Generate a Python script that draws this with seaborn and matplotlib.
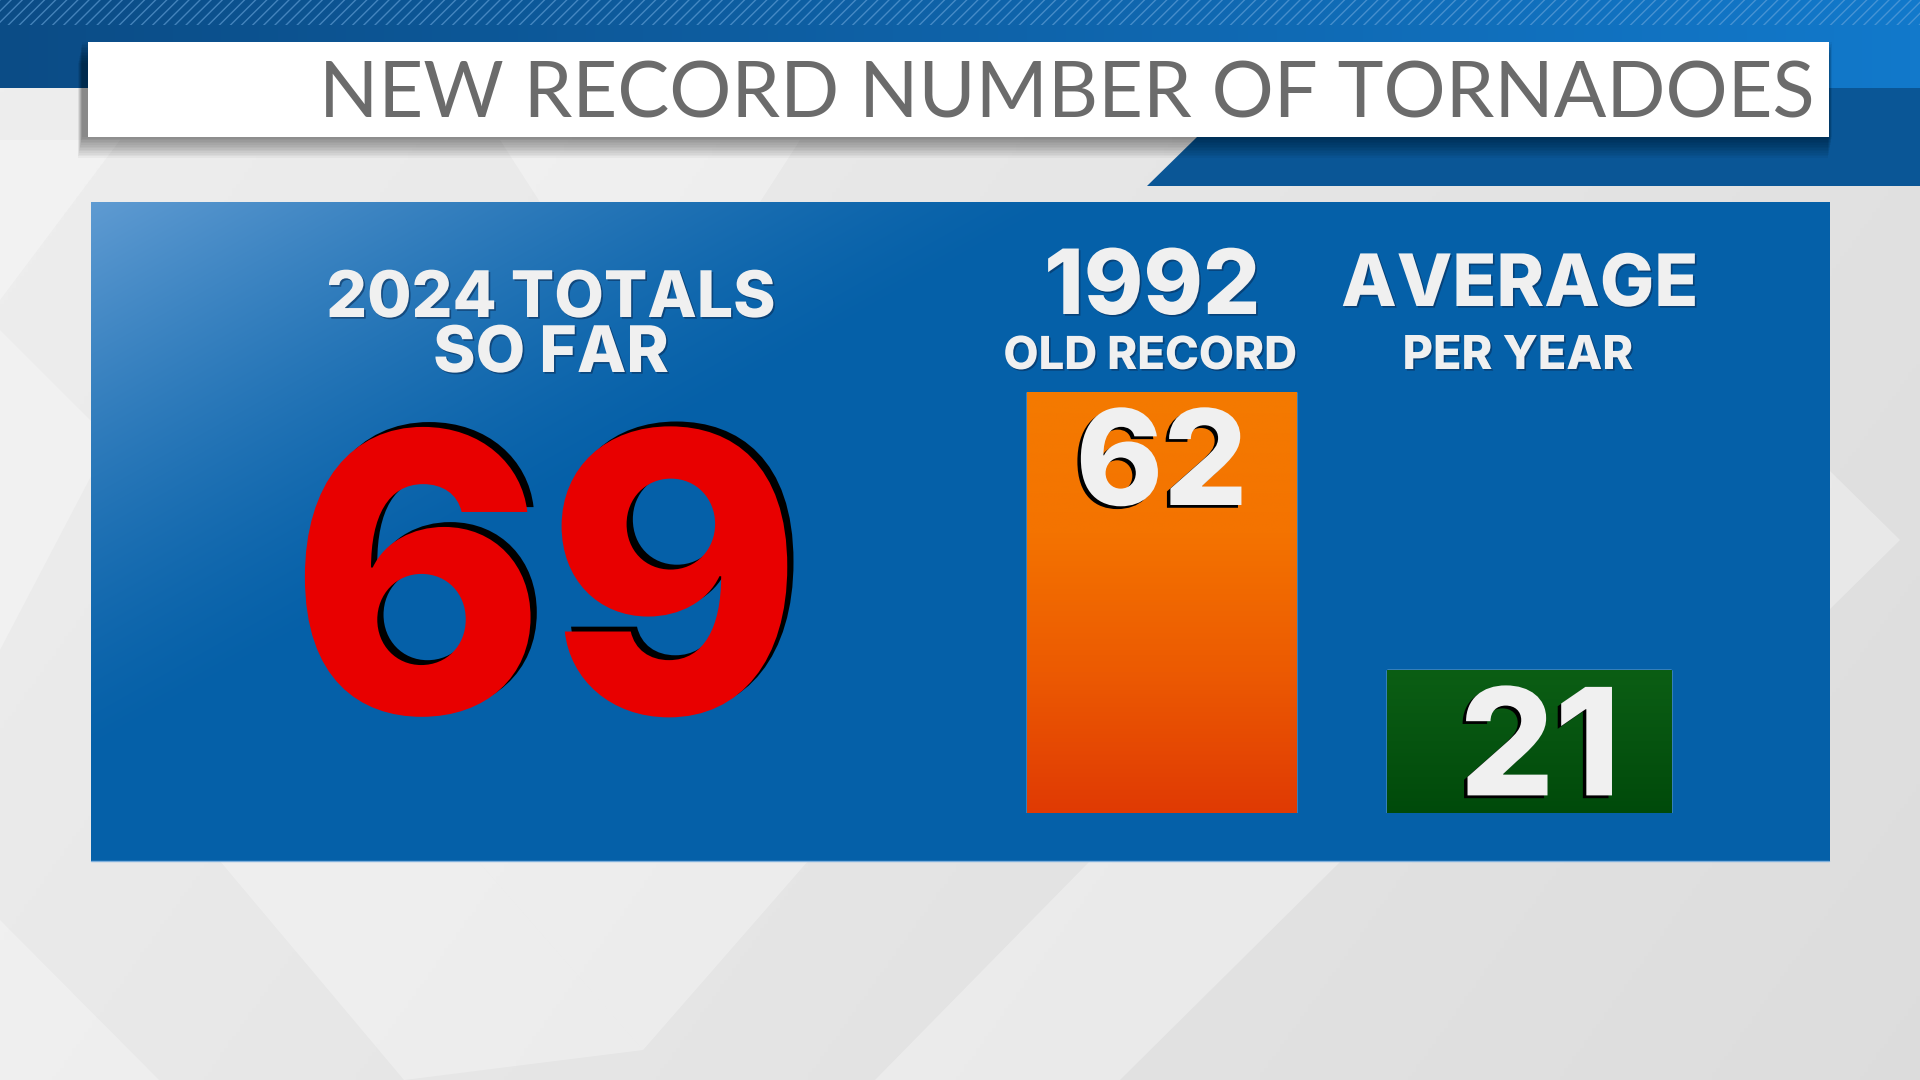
import numpy as np
import pandas as pd
import matplotlib.pyplot as plt
import seaborn as sns
from matplotlib import patheffects as pe
from matplotlib import transforms
from matplotlib.patches import Rectangle, Polygon
from matplotlib.colors import LinearSegmentedColormap, to_rgb
from matplotlib.textpath import TextPath
from matplotlib.font_manager import FontProperties

# ---- data -------------------------------------------------------------
title = "NEW RECORD NUMBER OF TORNADOES"
current_lines = ["2024 TOTALS", "SO FAR"]
current_total = 69
categories = ["1992", "AVERAGE"]
sublabels = ["OLD RECORD", "PER YEAR"]
counts = [62, 21]

# ---- setup ------------------------------------------------------------
DPI = 100
W, H = 1920, 1080
sns.set_style("white")
plt.rcParams["font.family"] = ["Inter", "DejaVu Sans"]
plt.rcParams["hatch.linewidth"] = 1.0

BOLD, BOLD_W = "Inter", "heavy"
THIN, THIN_W = "Lato", "normal"


def fit_size(text, ink_px, family=BOLD, weight=BOLD_W):
    # font size (pt) whose glyph ink height matches ink_px
    fp = FontProperties(family=family, weight=weight)
    ext = TextPath((0, 0), text, size=100, prop=fp).get_extents()
    return ink_px * 72 / DPI * 100 / ext.height


fig = plt.figure(figsize=(W / DPI, H / DPI), dpi=DPI)
bg = fig.add_axes([0, 0, 1, 1])
bg.set_xlim(0, W)
bg.set_ylim(H, 0)
bg.axis("off")

# light gray backdrop with faint facets
yy, xx = np.mgrid[0:H:4, 0:W:4]
shade = 0.935 - 0.05 * (xx / W) - 0.02 * (yy / H)
bg.imshow(np.dstack([shade] * 3), extent=[0, W, H, 0], zorder=0, aspect="auto")
facets = [
    [(0, 920), (159, 1080), (0, 1080)],
    [(220, 861), (478, 861), (643, 1050), (404, 1080)],
    [(478, 861), (808, 861), (643, 1050)],
    [(875, 1080), (1090, 861), (1341, 861), (1120, 1080)],
    [(0, 330), (110, 440), (0, 650)],
    [(1829, 470), (1900, 540), (1829, 610)],
    [(0, 140), (120, 140), (0, 300)],
    [(500, 140), (800, 140), (760, 202), (540, 202)],
]
for pts in facets:
    bg.add_patch(Polygon(pts, closed=True, facecolor="white", alpha=0.3,
                         edgecolor="none", zorder=1))

# top blue band with hatching
band = np.zeros((22, 200, 3))
c0, c1 = np.array(to_rgb("#0b4c86")), np.array(to_rgb("#1279cb"))
t = np.linspace(0, 1, 200)[None, :, None]
band[:] = c0 + (c1 - c0) * t
bg.imshow(band, extent=[0, W, 88, 0], zorder=2, aspect="auto")
bg.add_patch(Rectangle((0, 0), W, 25, facecolor="none", edgecolor="#6aa6dc",
                       hatch="///", linewidth=0, alpha=0.6, zorder=3))
bg.add_patch(Polygon([(1247, 88), (W, 88), (W, 186), (1147, 186)], closed=True,
                     facecolor="#0a5696", edgecolor="none", zorder=2))

# title box with a soft drop shadow
for i in range(14):
    bg.add_patch(Rectangle((82 - i * 0.3, 42 + i * 1.6), 1750, 95,
                           facecolor="black", alpha=0.035, edgecolor="none",
                           zorder=4))
bg.add_patch(Rectangle((88, 42), 1741, 95, facecolor="white", edgecolor="none", zorder=5))
bg.text(1815, 118, title, ha="right", va="baseline", color="#6b6b6b",
        fontsize=fit_size(title, 57, THIN, THIN_W), family=THIN,
        fontweight=THIN_W, zorder=6)

# main blue panel with a light glow in the top-left corner
py, px = np.mgrid[0:659, 0:1739]
glow = np.clip(1 - (px * 0.9 + py * 1.6) / 900, 0, 1) ** 1.4
base = np.array(to_rgb("#0560a8"))
light = np.array(to_rgb("#5f9bd2"))
panel = base + (light - base) * glow[..., None]
bg.imshow(panel, extent=[90.5, 1829, 861, 202], zorder=6, aspect="auto")
bg.plot([90.5, 1829], [861, 861], color="#7fb0dc", lw=1, zorder=7)

# 2024 running total
head_fs = fit_size(current_lines[0], 48)
soft = [pe.SimplePatchShadow(offset=(1.2, -1.2), shadow_rgbFace="#0a2f5a", alpha=0.6),
        pe.Normal()]
for line, base_y in zip(current_lines, [317, 372]):
    bg.text(551, base_y, line, ha="center", va="baseline", color="#f0f0f0",
            fontsize=head_fs, family=BOLD, fontweight=BOLD_W, zorder=8,
            path_effects=soft)
big = str(current_total)
bg.text(546, 713, big, ha="center", va="baseline", color="#e80000",
        fontsize=fit_size(big, 291), family=BOLD, fontweight=BOLD_W,
        zorder=8, path_effects=[pe.SimplePatchShadow(offset=(4.5, 3.5),
                                                     shadow_rgbFace="black",
                                                     alpha=1.0),
                                pe.Normal()])

# ---- bar chart --------------------------------------------------------
bar_bottom, bar_top = 813, 392          # pixel rows of 0 and max(counts)
x_left, x_step = 977.75, 367.5          # pixel left edge, pixels per category
ax = fig.add_axes([x_left / W, (H - bar_bottom) / H,
                   2 * x_step / W, (bar_bottom - bar_top) / H])
ax.patch.set_alpha(0)
df = pd.DataFrame({"period": categories, "count": counts})
bar_colors = ["#f27000", "#0a5512"]
sns.barplot(data=df, x="period", y="count", hue="period", palette=bar_colors,
            width=0.75, saturation=1, legend=False, ax=ax, zorder=3)

bar_widths = [0.732, 0.773]
grads = [
    LinearSegmentedColormap.from_list("o", ["#e03a04", "#ec5a02", "#f47300", "#f47a00"]),
    LinearSegmentedColormap.from_list("g", ["#004a0a", "#065410", "#0b5e14"]),
]
for patch, w, cm in zip(ax.patches, bar_widths, grads):
    cx = patch.get_x() + patch.get_width() / 2
    patch.set_width(w)
    patch.set_x(cx - w / 2)
    h = patch.get_height()
    img = ax.imshow(np.linspace(1, 0, 256)[:, None], cmap=cm, aspect="auto",
                    extent=[cx - w / 2, cx + w / 2, 0, h], zorder=4)
    img.set_clip_path(patch)

ax.set_xlim(-0.5, 1.5)
ax.set_ylim(0, max(counts))
ax.axis("off")

# values inside the bars
label_drop = [113, 125]                 # px from bar top down to baseline
label_shift = [0, 11]                   # px sideways from bar centre
label_ink = [99, 110]
for patch, val, drop, dx, ink in zip(ax.patches, counts, label_drop, label_shift, label_ink):
    cx = patch.get_x() + patch.get_width() / 2
    ax.annotate(str(val), xy=(cx, patch.get_height()),
                xytext=(dx * 0.72, -drop * 0.72),
                textcoords="offset points", ha="center", va="baseline",
                color="#f0f0f0", fontsize=fit_size(str(val), ink),
                family=BOLD, fontweight=BOLD_W, zorder=6,
                path_effects=[pe.SimplePatchShadow(offset=(-2.5, -2),
                                                   shadow_rgbFace="black",
                                                   alpha=1.0),
                              pe.Normal()])

# category headers over the bars
mix = transforms.blended_transform_factory(ax.transData, bg.transData)
cat_ink = [67.5, 54]
cat_base = [314, 306]
for i, (cat, sub, ink, yb) in enumerate(zip(categories, sublabels, cat_ink, cat_base)):
    ax.text(i - 0.025, yb, cat, transform=mix, ha="center", va="baseline",
            color="#f0f0f0", fontsize=fit_size(cat, ink), family=BOLD,
            fontweight=BOLD_W, path_effects=soft, clip_on=False)
    ax.text(i - 0.03, 369, sub, transform=mix, ha="center", va="baseline",
            color="#f0f0f0", fontsize=fit_size(sub, 34), family=BOLD,
            fontweight=BOLD_W, path_effects=soft, clip_on=False)

fig.savefig("out.png", dpi=DPI)
plt.close(fig)
